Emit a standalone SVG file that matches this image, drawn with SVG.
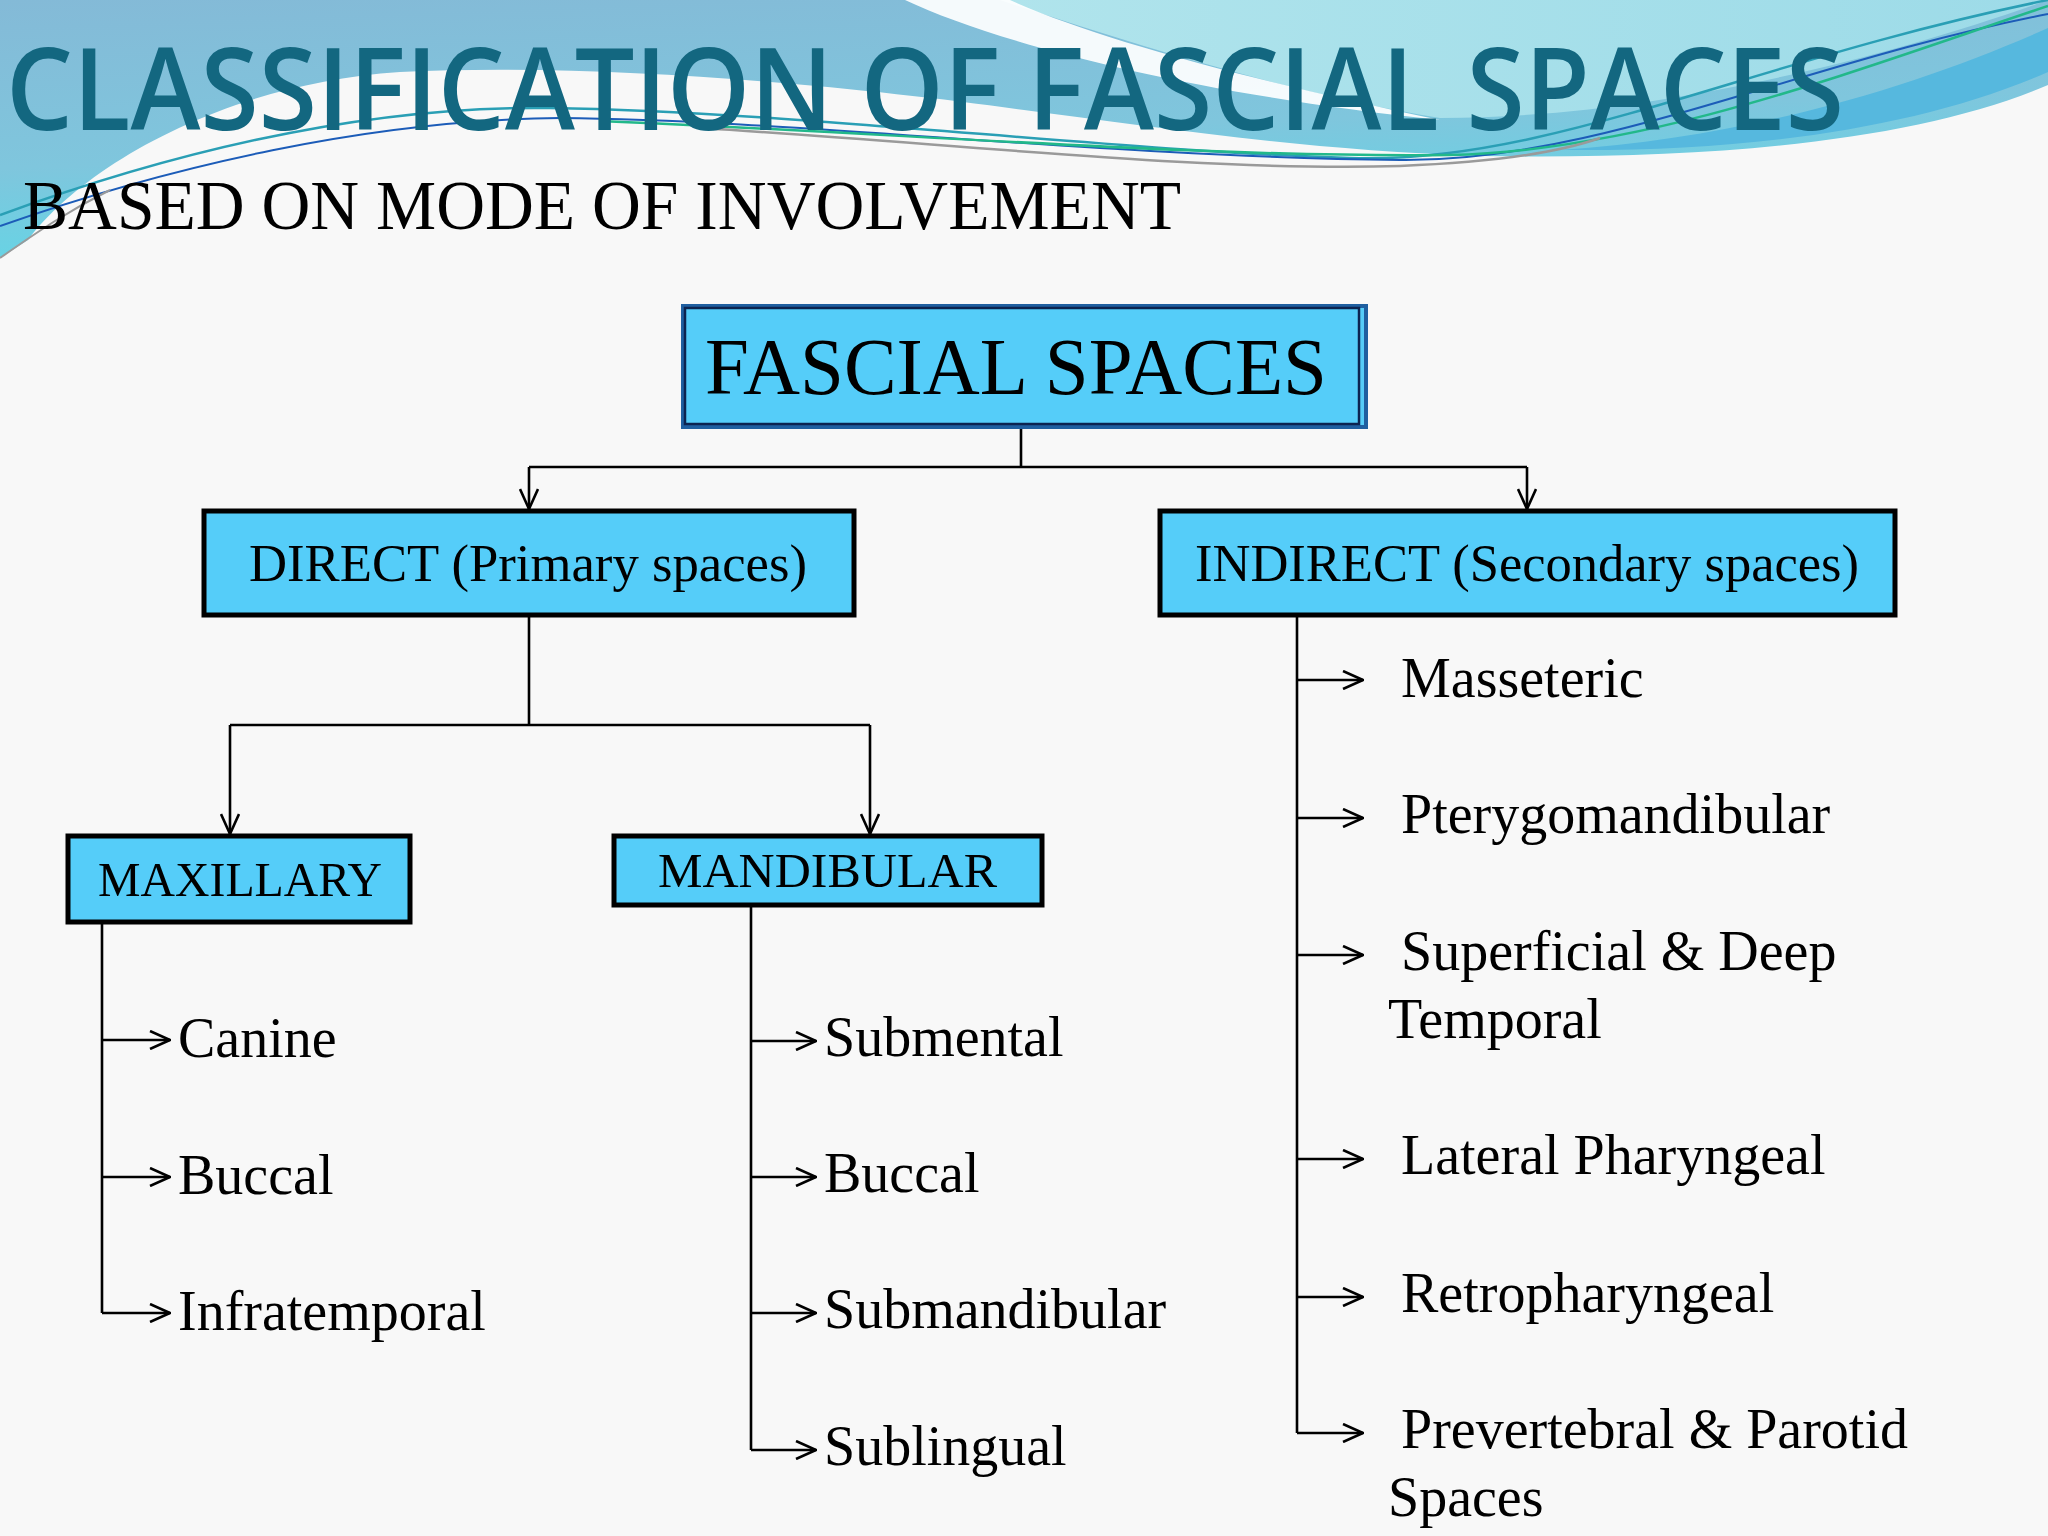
<svg xmlns="http://www.w3.org/2000/svg" width="2048" height="1536" viewBox="0 0 2048 1536">
<defs>
<linearGradient id="gBlue" x1="0" y1="0" x2="0.3" y2="1">
<stop offset="0" stop-color="#84bad7"/>
<stop offset="0.6" stop-color="#7fc6dd"/>
<stop offset="1" stop-color="#62d6e6"/>
</linearGradient>
<linearGradient id="gCyan" x1="0" y1="0" x2="1" y2="0">
<stop offset="0" stop-color="#b0e4ec"/>
<stop offset="1" stop-color="#9ddbe8"/>
</linearGradient>
<marker id="arr" viewBox="0 0 22 20" refX="21" refY="10" markerWidth="22" markerHeight="20" markerUnits="userSpaceOnUse" orient="auto">
<path d="M1,1 L21,10 L1,19" fill="none" stroke="#000" stroke-width="2.6"/>
</marker>
<style>
.box{fill:#55cdf9;stroke:#000;stroke-width:5}
.lbl{font-family:"Liberation Serif","Times New Roman",serif;fill:#000}
.item{font-family:"Liberation Serif","Times New Roman",serif;font-size:56px;fill:#000}
.con{fill:none;stroke:#000;stroke-width:2.6}
.arrow{fill:none;stroke:#000;stroke-width:2.6;marker-end:url(#arr)}
</style>
</defs>
<rect width="2048" height="1536" fill="#f8f8f8"/>
<g id="background">
<path d="M0,0 H2048 V85 C1920,140 1720,160 1480,156 C1300,150 1150,126 1024,110 C850,86 600,62 400,72 C220,84 80,170 28,240 L0,258 Z" fill="url(#gBlue)"/>
<path d="M1000,0 C1150,50 1300,95 1440,118 C1650,118 1880,60 2048,0 Z" fill="url(#gCyan)"/>
<path d="M1560,150 C1750,138 1920,85 2048,28 L2048,72 C1920,128 1750,152 1560,150 Z" fill="#56b8de"/>
<path d="M905,0 C1000,45 1200,95 1440,120 C1250,80 1100,40 1010,0 Z" fill="#ffffff" opacity="0.92"/>
<path d="M0,215 C150,160 350,105 550,108 C800,112 1100,150 1350,158 C1550,165 1750,60 2048,0" fill="none" stroke="#2a9fb5" stroke-width="2.5"/>
<path d="M0,226 C170,166 370,120 560,118 C800,120 1100,157 1400,160 C1600,162 1800,62 2048,14" fill="none" stroke="#1c5cb8" stroke-width="2"/>
<path d="M600,121 C900,133 1200,158 1450,155 C1650,150 1850,72 2048,6" fill="none" stroke="#22b88a" stroke-width="2.5"/>
<path d="M700,128 C950,143 1200,172 1400,166 C1500,162 1560,152 1600,138" fill="none" stroke="#9a9a9a" stroke-width="2.5"/>
<path d="M0,258 C40,230 70,210 110,190" fill="none" stroke="#9a9a9a" stroke-width="2"/>
</g>
<g id="title">
<text x="6" y="130" font-family="'Open Sans','DejaVu Sans',sans-serif" font-weight="600" font-size="115" fill="#136780" textLength="1838" lengthAdjust="spacingAndGlyphs">CLASSIFICATION OF FASCIAL SPACES</text>
<text x="23" y="229" class="lbl" font-size="70" textLength="1158" lengthAdjust="spacingAndGlyphs">BASED ON MODE OF INVOLVEMENT</text>
</g>
<g id="connectors">
<path class="con" d="M1021,428 V467 M529,467 H1527"/>
<path class="arrow" d="M529,467 V509"/>
<path class="arrow" d="M1527,467 V509"/>
<path class="con" d="M529,616 V725 M230,725 H870"/>
<path class="arrow" d="M230,725 V834"/>
<path class="arrow" d="M870,725 V834"/>
<path class="con" d="M102,922 V1313"/>
<path class="arrow" d="M102,1040 H170"/>
<path class="arrow" d="M102,1177 H170"/>
<path class="arrow" d="M102,1313 H170"/>
<path class="con" d="M751,905 V1450"/>
<path class="arrow" d="M751,1041 H816"/>
<path class="arrow" d="M751,1177 H816"/>
<path class="arrow" d="M751,1313 H816"/>
<path class="arrow" d="M751,1450 H816"/>
<path class="con" d="M1297,616 V1433"/>
<path class="arrow" d="M1297,680 H1363"/>
<path class="arrow" d="M1297,818 H1363"/>
<path class="arrow" d="M1297,955 H1363"/>
<path class="arrow" d="M1297,1159 H1363"/>
<path class="arrow" d="M1297,1297 H1363"/>
<path class="arrow" d="M1297,1433 H1363"/>
</g>
<g id="fascial-spaces">
<rect x="683" y="306" width="683" height="121" fill="#55cdf9" stroke="#1f5fa0" stroke-width="4"/>
<rect x="685" y="308" width="674" height="116" fill="none" stroke="#0c2450" stroke-width="2.5"/>
<text x="705" y="394" class="lbl" font-size="80" textLength="622" lengthAdjust="spacingAndGlyphs">FASCIAL SPACES</text>
</g>
<g id="direct">
<rect class="box" x="204" y="511" width="650" height="104"/>
<text x="249" y="581" class="lbl" font-size="53" textLength="558" lengthAdjust="spacingAndGlyphs">DIRECT (Primary spaces)</text>
</g>
<g id="indirect">
<rect class="box" x="1160" y="511" width="735" height="104"/>
<text x="1195" y="581" class="lbl" font-size="53" textLength="664" lengthAdjust="spacingAndGlyphs">INDIRECT (Secondary spaces)</text>
</g>
<g id="maxillary">
<rect class="box" x="68" y="836" width="342" height="86"/>
<text x="98" y="896" class="lbl" font-size="49" textLength="284" lengthAdjust="spacingAndGlyphs">MAXILLARY</text>
</g>
<g id="mandibular">
<rect class="box" x="614" y="836" width="428" height="69"/>
<text x="658" y="887" class="lbl" font-size="49" textLength="339" lengthAdjust="spacingAndGlyphs">MANDIBULAR</text>
</g>
<g id="maxillary-items">
<text class="item" x="178" y="1057">Canine</text>
<text class="item" x="178" y="1194">Buccal</text>
<text class="item" x="178" y="1330">Infratemporal</text>
</g>
<g id="mandibular-items">
<text class="item" x="824" y="1056">Submental</text>
<text class="item" x="824" y="1192">Buccal</text>
<text class="item" x="824" y="1328">Submandibular</text>
<text class="item" x="824" y="1465">Sublingual</text>
</g>
<g id="indirect-items">
<text class="item" x="1401" y="697">Masseteric</text>
<text class="item" x="1401" y="833">Pterygomandibular</text>
<text class="item" x="1401" y="970">Superficial &amp; Deep</text>
<text class="item" x="1388" y="1038">Temporal</text>
<text class="item" x="1401" y="1174">Lateral Pharyngeal</text>
<text class="item" x="1401" y="1312">Retropharyngeal</text>
<text class="item" x="1401" y="1448">Prevertebral &amp; Parotid</text>
<text class="item" x="1388" y="1516">Spaces</text>
</g>
</svg>
